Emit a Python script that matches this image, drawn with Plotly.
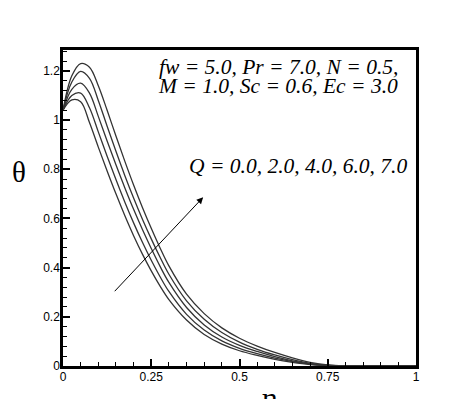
import plotly.graph_objects as go

Q_values = [0.0, 2.0, 4.0, 6.0, 7.0]

eta = [0.0, 0.025, 0.05, 0.075, 0.10, 0.125, 0.15, 0.175, 0.20, 0.225, 0.25, 0.275, 0.30,
       0.35, 0.40, 0.45, 0.50, 0.55, 0.60, 0.65, 0.70, 0.75, 0.80, 0.90, 1.0]

theta_q0 = [1.04, 1.082, 1.075, 0.99, 0.89, 0.793, 0.70, 0.612, 0.53, 0.455, 0.387, 0.325, 0.27,
            0.187, 0.128, 0.089, 0.062, 0.043, 0.027, 0.015, 0.006, 0.0015, 0.0, 0.0, 0.0]
theta_q2 = [1.04, 1.10, 1.11, 1.05, 0.952, 0.853, 0.758, 0.667, 0.582, 0.503, 0.43, 0.363, 0.303,
            0.21, 0.146, 0.102, 0.072, 0.050, 0.032, 0.018, 0.008, 0.002, 0.0, 0.0, 0.0]
theta_q4 = [1.04, 1.125, 1.15, 1.11, 1.015, 0.915, 0.818, 0.725, 0.637, 0.555, 0.478, 0.405, 0.34,
            0.238, 0.167, 0.118, 0.084, 0.059, 0.038, 0.021, 0.009, 0.0025, 0.0, 0.0, 0.0]
theta_q6 = [1.04, 1.155, 1.198, 1.17, 1.08, 0.975, 0.873, 0.775, 0.683, 0.597, 0.517, 0.442, 0.373,
            0.265, 0.19, 0.136, 0.097, 0.068, 0.045, 0.026, 0.011, 0.003, 0.0, 0.0, 0.0]
theta_q7 = [1.04, 1.18, 1.23, 1.215, 1.14, 1.04, 0.935, 0.833, 0.736, 0.645, 0.56, 0.48, 0.407,
            0.292, 0.213, 0.155, 0.113, 0.081, 0.055, 0.033, 0.015, 0.004, 0.0005, 0.0, 0.0]

curves = [theta_q0, theta_q2, theta_q4, theta_q6, theta_q7]

x_tickvals = [0, 0.25, 0.5, 0.75, 1]
x_ticktext = ["0", "0.25", "0.5", "0.75", "1"]
y_tickvals = [0, 0.2, 0.4, 0.6, 0.8, 1.0, 1.2]
y_ticktext = ["0", "0.2", "0.4", "0.6", "0.8", "1", "1.2"]

fig = go.Figure()
for q, th in zip(Q_values, curves):
    fig.add_trace(go.Scatter(x=eta, y=th, mode="lines", name=f"Q = {q}",
                             line=dict(color="#333333", width=1.3, shape="spline", smoothing=1.0),
                             showlegend=False, hoverinfo="skip"))

serif = "Liberation Serif, Times New Roman, serif"
sans = "Liberation Sans, Arial, sans-serif"

fig.update_layout(
    width=474, height=399,
    margin=dict(l=63, r=58, t=50, b=33),
    paper_bgcolor="white", plot_bgcolor="white",
    xaxis=dict(range=[0, 1], tickvals=x_tickvals, ticktext=x_ticktext,
               showgrid=False, zeroline=False, showline=True, linecolor="black",
               linewidth=2.5, mirror=True, ticks="inside", ticklen=7, tickwidth=2,
               tickcolor="black", tickfont=dict(family=sans, size=12, color="black"),
               minor=dict(dtick=0.05, ticks="inside", ticklen=4, tickwidth=1, tickcolor="black"),
               ticklabelstandoff=-2),
    yaxis=dict(range=[0, 1.285], tickvals=y_tickvals, ticktext=y_ticktext,
               showgrid=False, zeroline=False, showline=True, linecolor="black",
               linewidth=2.5, mirror=True, ticks="inside", ticklen=7, tickwidth=2,
               tickcolor="black", tickfont=dict(family=sans, size=12, color="black"),
               minor=dict(dtick=0.04, ticks="inside", ticklen=4, tickwidth=1, tickcolor="black"),
               ticklabelstandoff=-2),
)

fig.add_annotation(x=0.61, y=1.215, xref="x", yref="y", showarrow=False,
                   text="<i>fw = 5.0, Pr = 7.0, N = 0.5,</i>",
                   font=dict(family=serif, size=21.5, color="black"))
fig.add_annotation(x=0.608, y=1.137, xref="x", yref="y", showarrow=False,
                   text="<i>M = 1.0, Sc = 0.6, Ec = 3.0</i>",
                   font=dict(family=serif, size=21.5, color="black"))
fig.add_annotation(x=0.35, y=0.813, xref="x", yref="y", showarrow=False, xanchor="left",
                   text="<i>Q = 0.0, 2.0, 4.0, 6.0, 7.0</i>",
                   font=dict(family=serif, size=21.5, color="black"))
fig.add_annotation(x=0.397, y=0.686, ax=0.1425, ay=0.298, xref="x", yref="y",
                   axref="x", ayref="y", showarrow=True, text="",
                   arrowhead=2, arrowsize=1.3, arrowwidth=1, arrowcolor="black")
fig.add_annotation(x=-0.125, y=0.615, xref="paper", yref="paper", showarrow=False,
                   xanchor="center", yanchor="middle",
                   text="θ", font=dict(family=serif, size=29, color="black"))
fig.add_annotation(x=0.586, y=-0.042, xref="x", yref="paper", showarrow=False, yanchor="top",
                   text="η", font=dict(family=serif, size=30, color="black"))

fig.write_html("out.html", config={"displayModeBar": False},
               post_script="document.body.style.margin='0';")
